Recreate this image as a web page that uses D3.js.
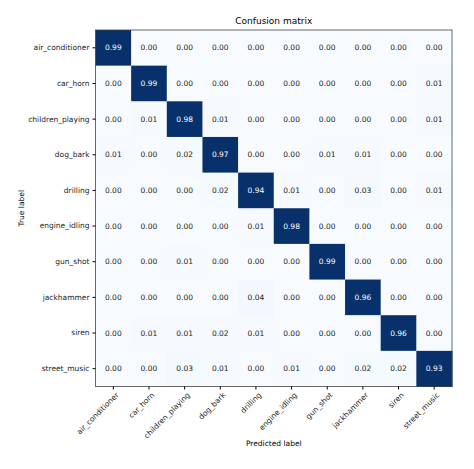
<!DOCTYPE html><html><head><meta charset="utf-8"><script src="https://d3js.org/d3.v7.min.js"></script>
<style>body{margin:0;background:#fff}text{font-family:"DejaVu Sans",sans-serif}</style></head><body><script>
const labels=["air_conditioner","car_horn","children_playing","dog_bark","drilling","engine_idling","gun_shot","jackhammer","siren","street_music"];
const matrix=[
[0.99,0,0,0,0,0,0,0,0,0],
[0,0.99,0,0,0,0,0,0,0,0.01],
[0,0.01,0.98,0.01,0,0,0,0,0,0.01],
[0.01,0,0.02,0.97,0,0,0.01,0.01,0,0],
[0,0,0,0.02,0.94,0.01,0,0.03,0,0.01],
[0,0,0,0,0.01,0.98,0,0,0,0],
[0,0,0.01,0,0,0,0.99,0,0,0],
[0,0,0,0,0.04,0,0,0.96,0,0],
[0,0.01,0.01,0.02,0.01,0,0,0,0.96,0],
[0,0,0.03,0.01,0,0.01,0,0.02,0.02,0.93]];
const W=474,H=469,L=95.5,T=30,S=356.5;
const svg=d3.select("body").append("svg").attr("width",W).attr("height",H);
const x=d3.scaleBand().domain(labels).range([L,L+S]);
const y=d3.scaleBand().domain(labels).range([T,T+S]);
const col=d3.scaleSequential(d3.interpolateBlues).domain([0,0.99]);
const cells=[];matrix.forEach((r,i)=>r.forEach((v,j)=>cells.push({i,j,v})));
svg.selectAll("rect.c").data(cells).join("rect").attr("x",d=>x(labels[d.j])).attr("y",d=>y(labels[d.i]))
 .attr("width",x.bandwidth()+0.5).attr("height",y.bandwidth()+0.5).attr("fill",d=>d.v>0.5?"#08306b":col(d.v*0.5));
svg.selectAll("text.v").data(cells).join("text").attr("x",d=>x(labels[d.j])+x.bandwidth()/2).attr("y",d=>y(labels[d.i])+y.bandwidth()/2)
 .attr("text-anchor","middle").attr("dominant-baseline","central").attr("font-size",7.5)
 .attr("fill",d=>d.v>0.5?"#fff":"#222").text(d=>d.v.toFixed(2));
svg.append("rect").attr("x",L).attr("y",T).attr("width",S).attr("height",S).attr("fill","none").attr("stroke","#444").attr("stroke-width",0.8);
const ax=svg.append("g").attr("transform",`translate(0,${T+S})`).call(d3.axisBottom(x).tickSize(3));
ax.select(".domain").remove();
ax.selectAll("text").attr("font-size",7.5).attr("text-anchor","end").attr("dx","-0.3em").attr("dy","0.6em").attr("transform","rotate(-45)").attr("fill","#222");
const ay=svg.append("g").attr("transform",`translate(${L},0)`).call(d3.axisLeft(y).tickSize(3));
ay.select(".domain").remove();
ay.selectAll("text").attr("font-size",7.5).attr("fill","#222");
svg.append("text").attr("x",L+S/2).attr("y",T-6).attr("text-anchor","middle").attr("font-size",9).text("Confusion matrix");
svg.append("text").attr("x",L+S/2).attr("y",446).attr("text-anchor","middle").attr("font-size",7.5).text("Predicted label");
svg.append("text").attr("transform",`translate(24,${T+S/2}) rotate(-90)`).attr("text-anchor","middle").attr("font-size",7.5).text("True label");
</script></body></html>
